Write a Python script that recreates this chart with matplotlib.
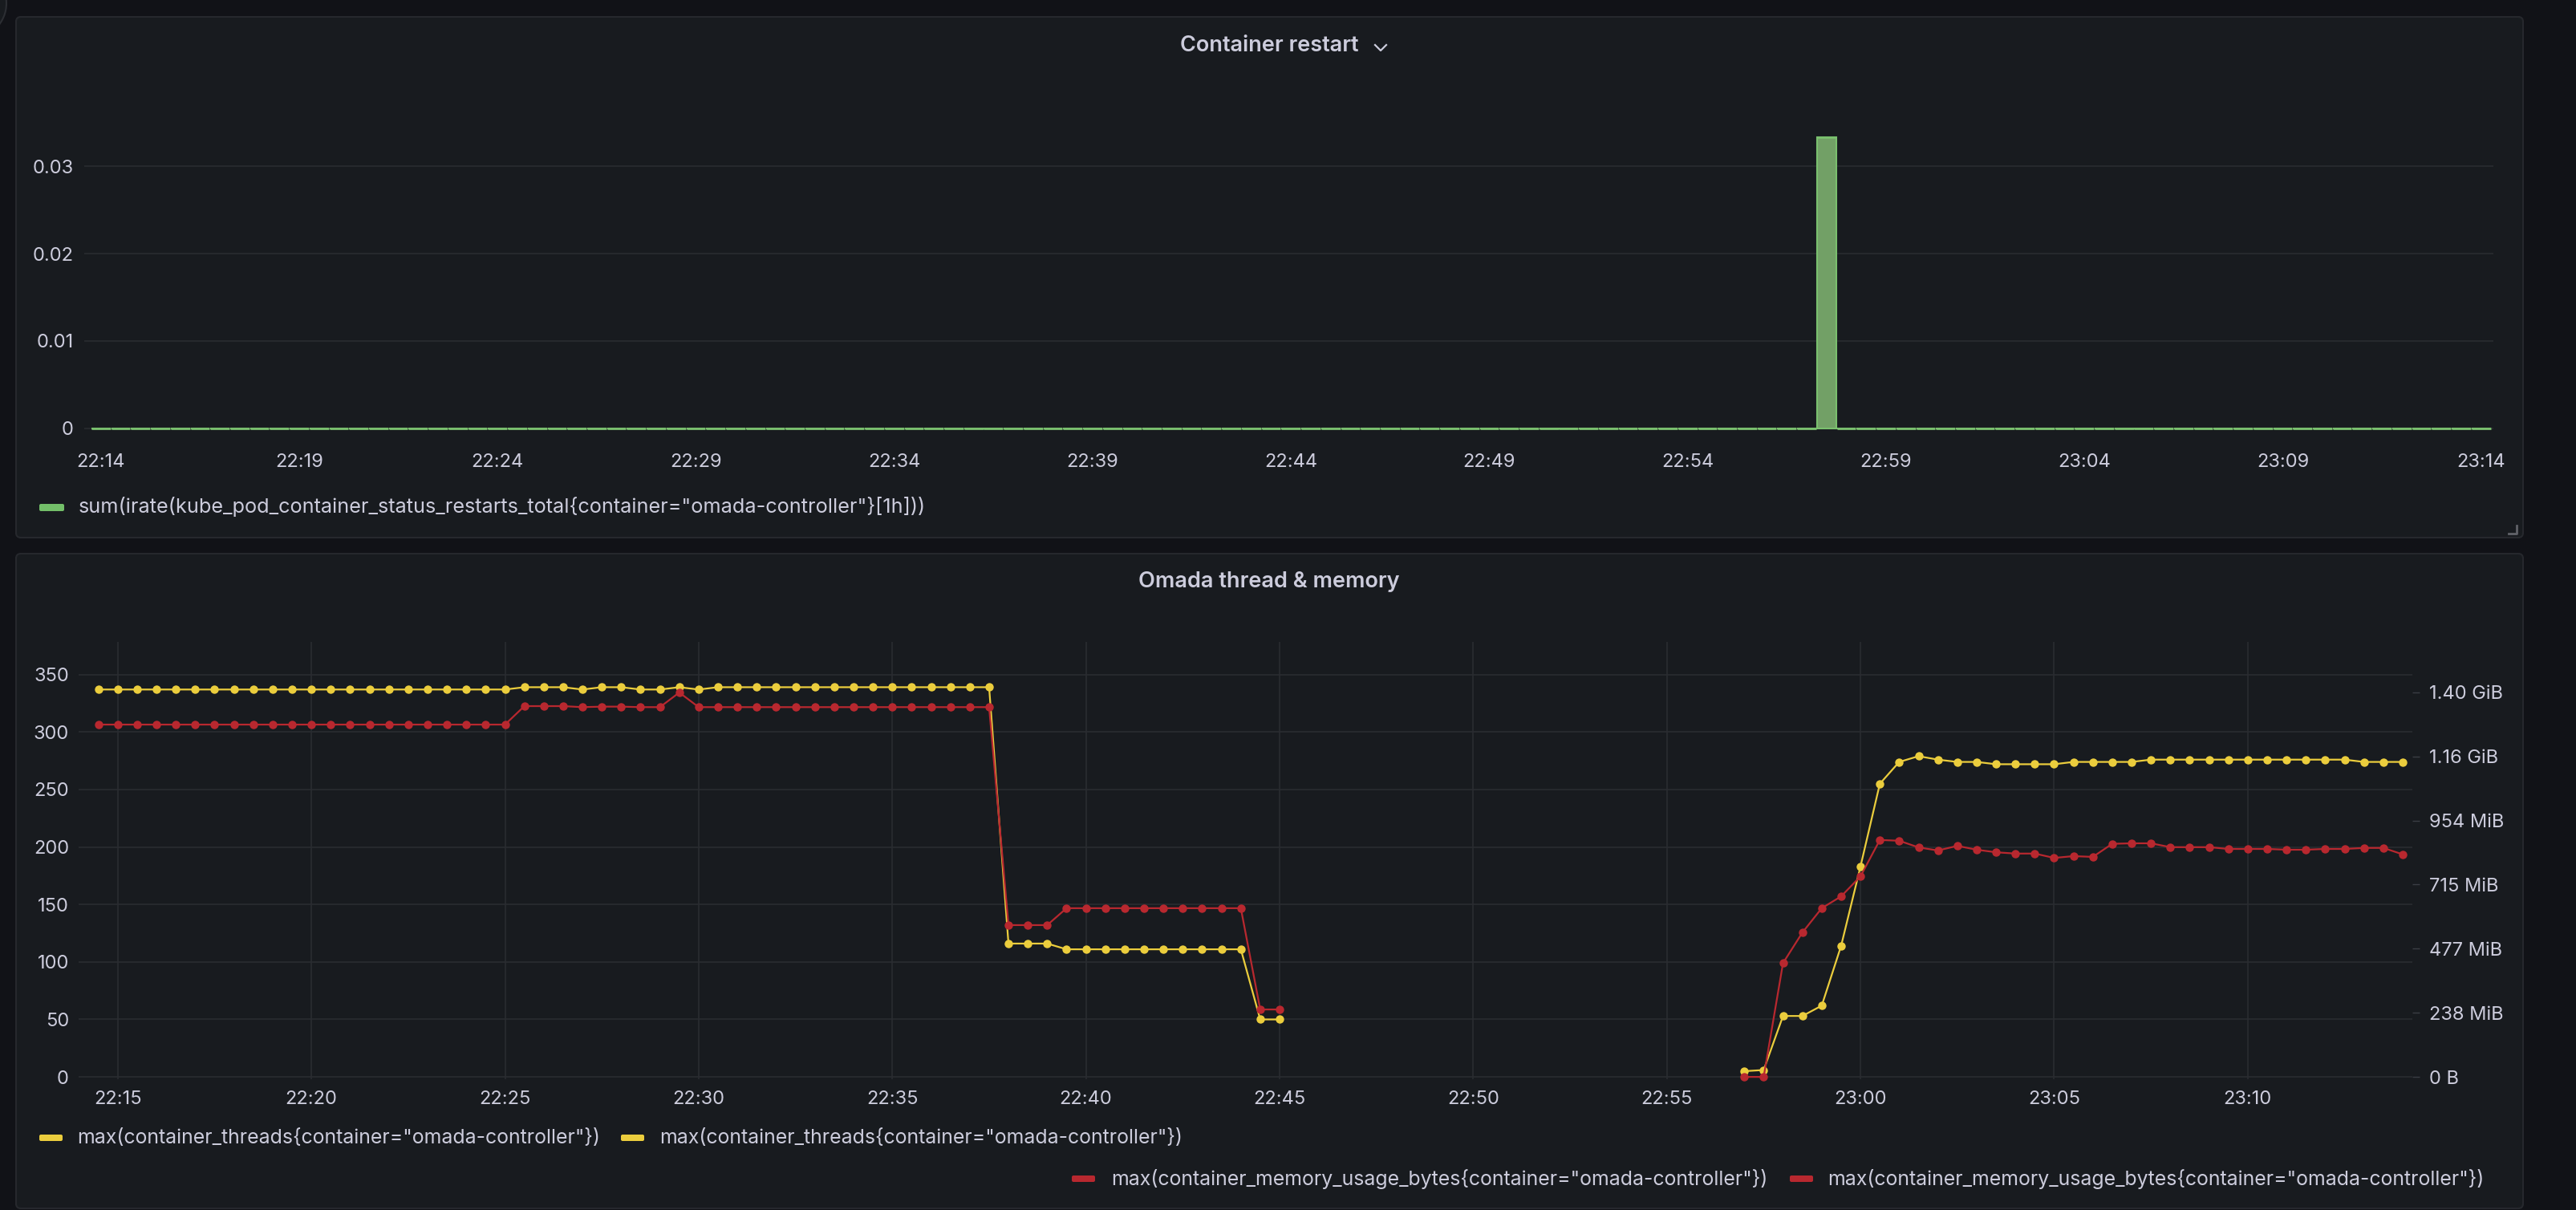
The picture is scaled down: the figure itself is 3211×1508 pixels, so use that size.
import numpy as np
import matplotlib.pyplot as plt
from matplotlib.patches import FancyBboxPatch, Circle
from matplotlib.lines import Line2D
from matplotlib.ticker import FixedLocator, FuncFormatter
from matplotlib.transforms import Affine2D

plt.rcParams['font.family'] = ['Inter', 'DejaVu Sans']

W, H = 3212, 1508

# x values are minutes after 22:00, one sample every 30 s
restart_times = np.arange(14.0, 74.01, 0.5)
restart_rate = [
    0, 0, 0, 0, 0, 0, 0, 0, 0, 0, 0,
    0, 0, 0, 0, 0, 0, 0, 0, 0, 0, 0,
    0, 0, 0, 0, 0, 0, 0, 0, 0, 0, 0,
    0, 0, 0, 0, 0, 0, 0, 0, 0, 0, 0,
    0, 0, 0, 0, 0, 0, 0, 0, 0, 0, 0,
    0, 0, 0, 0, 0, 0, 0, 0, 0, 0, 0,
    0, 0, 0, 0, 0, 0, 0, 0, 0, 0, 0,
    0, 0, 0, 0, 0, 0, 0, 0, 0, 0, 0.0333,
    0, 0, 0, 0, 0, 0, 0, 0, 0, 0, 0,
    0, 0, 0, 0, 0, 0, 0, 0, 0, 0, 0,
    0, 0, 0, 0, 0, 0, 0, 0, 0, 0, 0,
]

old_times = np.arange(14.5, 45.01, 0.5)
new_times = np.arange(57.0, 74.01, 0.5)

threads_old = [
    337, 337, 337, 337, 337, 337, 337, 337, 337, 337, 337,
    337, 337, 337, 337, 337, 337, 337, 337, 337, 337, 337,
    339, 339, 339, 337, 339, 339, 337, 337, 339, 337,
    339, 339, 339, 339, 339, 339, 339, 339, 339, 339, 339, 339, 339, 339, 339,
    116, 116, 116,
    111, 111, 111, 111, 111, 111, 111, 111, 111, 111,
    50, 50,
]
threads_new = [
    5, 6, 53, 53, 62, 114, 183, 255, 274, 279,
    276, 274, 274, 272, 272, 272, 272, 274, 274, 274,
    274, 276, 276, 276, 276, 276, 276, 276, 276, 276,
    276, 276, 274, 274, 274,
]

# memory in MB (1e6 bytes)
mem_old_mb = [
    1374, 1374, 1374, 1374, 1374, 1374, 1374, 1374, 1374, 1374, 1374,
    1374, 1374, 1374, 1374, 1374, 1374, 1374, 1374, 1374, 1374, 1374,
    1446, 1446, 1446, 1442, 1444, 1444, 1442, 1442, 1499, 1442,
    1442, 1442, 1442, 1442, 1442, 1442, 1442, 1442, 1442, 1442, 1442, 1442, 1442, 1442, 1442,
    592, 592, 592,
    658, 658, 658, 658, 658, 658, 658, 658, 658, 658,
    263, 263,
]
mem_new_mb = [
    0, 0, 444, 563, 658, 704, 782, 924, 921, 895,
    883, 901, 886, 876, 871, 871, 854, 861, 858, 909,
    911, 911, 896, 896, 896, 889, 889, 889, 886, 886,
    889, 889, 893, 893, 868,
]

restart_label = 'sum(irate(kube_pod_container_status_restarts_total{container="omada-controller"}[1h]))'
threads_label = 'max(container_threads{container="omada-controller"})'
mem_label = 'max(container_memory_usage_bytes{container="omada-controller"})'

BG = '#111217'
PANEL = '#181b1f'
BORDER = '#26282d'
GRID = '#2a2c31'
TEXT = '#ccccdc'
GREEN = '#73bf69'
YELLOW = '#ebcd3d'
RED = '#b8282f'


def px_box(x0, y0, x1, y1):
    return [x0 / W, 1 - y1 / H, (x1 - x0) / W, (y1 - y0) / H]


def fmt_time(m, pos):
    total = int(round(m))
    return f'{22 + total // 60:02d}:{total % 60:02d}'


def fmt_bytes(v, pos):
    if v <= 0:
        return '0 B'
    units = ['B', 'KiB', 'MiB', 'GiB']
    k = 0
    while v >= 1024 and k < 3:
        v /= 1024
        k += 1
    dec = max(0, 2 - int(np.floor(np.log10(v))))
    return f'{v:.{dec}f} {units[k]}'


fig = plt.figure(figsize=(W / 100, H / 100), dpi=100, facecolor=BG)
pix = Affine2D().scale(1, -1).translate(0, H)

# panels
for (x, y, w, h) in [(20, 21, 3125, 649), (20, 690, 3125, 816)]:
    fig.add_artist(FancyBboxPatch((x, y), w, h, boxstyle='round,pad=0,rounding_size=6',
                                  transform=pix, fc=PANEL, ec=BORDER, lw=1.5, zorder=-1))
fig.add_artist(Circle((-36, 4), 44, transform=pix, fc=PANEL, ec='#2c2e33', lw=1.5, zorder=-1))

# ---- top panel: restarts ----
ax = fig.add_axes(px_box(105, 169, 3108, 536))
ax.patch.set_visible(False)
bar_w = 0.48
ax.bar(restart_times, restart_rate, width=bar_w, color='#72a066', edgecolor='#7ac06e', linewidth=1.5)
# bar tops (zero-valued bars show as short dashes)
ax.hlines(restart_rate, restart_times - bar_w / 2, restart_times + bar_w / 2, color='#7ac06e', lw=2)
ax.set_xlim(13.58, 74.31)
ax.set_ylim(-0.0002, 0.0335)
ax.xaxis.set_major_locator(FixedLocator(np.arange(14, 75, 5)))
ax.xaxis.set_major_formatter(FuncFormatter(fmt_time))
ax.yaxis.set_major_locator(FixedLocator([0, 0.01, 0.02, 0.03]))
ax.yaxis.set_major_formatter(FuncFormatter(lambda v, p: '0' if v == 0 else f'{v:.2f}'))
ax.grid(axis='y', color=GRID, lw=1.2)
ax.set_axisbelow(True)
for s in ax.spines.values():
    s.set_visible(False)
ax.tick_params(axis='x', length=0, pad=21, labelsize=17, labelcolor=TEXT)
ax.tick_params(axis='y', length=0, pad=9.4, labelsize=17, labelcolor=TEXT)

fig.text(1582, 57, 'Container restart', transform=pix, ha='center', va='center',
         fontsize=19.5, fontweight='semibold', color=TEXT)
fig.add_artist(Line2D([1714, 1721, 1728], [56, 63, 56], transform=pix, color=TEXT, lw=1.6))
fig.add_artist(Line2D([3127, 3137, 3137], [665, 665, 655], transform=pix, color='#606268', lw=2))

fig.add_artist(FancyBboxPatch((49, 628), 31, 9, boxstyle='round,pad=0,rounding_size=2',
                              transform=pix, fc=GREEN, ec='none'))
fig.text(98, 632, restart_label, transform=pix, ha='left', va='center', fontsize=18.2, color=TEXT)

# ---- bottom panel: threads & memory ----
ax1 = fig.add_axes(px_box(98.5, 800, 3007, 1345))
ax1.patch.set_visible(False)
ax1.plot(old_times, threads_old, color=YELLOW, lw=1.6, marker='o', ms=7.5, mew=0, clip_on=False)
ax1.plot(new_times, threads_new, color=YELLOW, lw=1.6, marker='o', ms=7.5, mew=0, clip_on=False)
ax1.set_xlim(14.0, 74.25)
ax1.set_ylim(-2, 378.4)
ax1.xaxis.set_major_locator(FixedLocator(np.arange(15, 74, 5)))
ax1.xaxis.set_major_formatter(FuncFormatter(fmt_time))
ax1.yaxis.set_major_locator(FixedLocator(np.arange(0, 351, 50)))
ax1.grid(True, color=GRID, lw=1.2)
ax1.set_axisbelow(True)
ax1.tick_params(axis='x', length=0, pad=10, labelsize=17, labelcolor=TEXT)
ax1.tick_params(axis='y', length=0, pad=9, labelsize=17, labelcolor=TEXT)

ax2 = ax1.twinx()
ax2.patch.set_visible(False)
ax2.plot(old_times, np.array(mem_old_mb) * 1e6, color=RED, lw=1.6, marker='o', ms=7.5, mew=0, clip_on=False)
ax2.plot(new_times, np.array(mem_new_mb) * 1e6, color=RED, lw=1.6, marker='o', ms=7.5, mew=0, clip_on=False)
ax2.set_ylim(-2 * 4.483e6, 378.4 * 4.483e6)
ax2.yaxis.set_major_locator(FixedLocator([0, 250e6, 500e6, 750e6, 1000e6, 1250e6, 1500e6]))
ax2.yaxis.set_major_formatter(FuncFormatter(fmt_bytes))
ax2.tick_params(axis='y', length=6.5, width=1, color='#3b3e44', pad=8.6, labelsize=17, labelcolor=TEXT)

for a in (ax1, ax2):
    for s in a.spines.values():
        s.set_visible(False)

fig.text(1582, 725, 'Omada thread & memory', transform=pix, ha='center', va='center',
         fontsize=19.5, fontweight='semibold', color=TEXT)

legend_items = [
    (49, 1414, YELLOW, 96, threads_label),
    (774, 1414, YELLOW, 822, threads_label),
    (1336, 1465, RED, 1385, mem_label),
    (2231, 1465, RED, 2278, mem_label),
]
for sx, sy, col, tx, lab in legend_items:
    fig.add_artist(FancyBboxPatch((sx, sy), 29, 8, boxstyle='round,pad=0,rounding_size=2',
                                  transform=pix, fc=col, ec='none'))
    fig.text(tx, sy + 4, lab, transform=pix, ha='left', va='center', fontsize=17.9, color=TEXT)

fig.savefig('out.png', dpi=100, facecolor=BG)
